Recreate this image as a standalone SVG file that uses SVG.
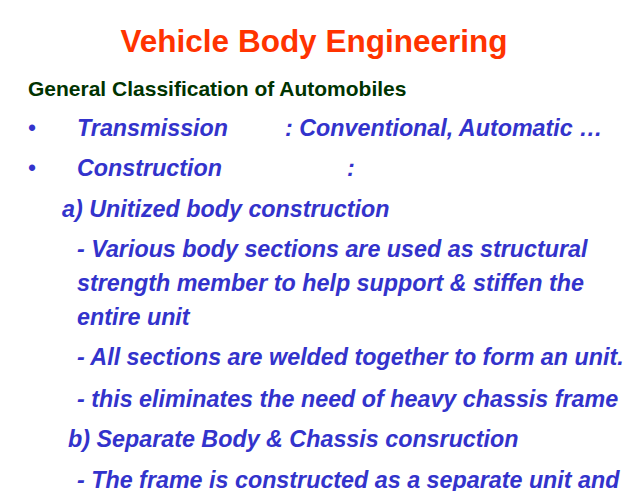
<svg xmlns="http://www.w3.org/2000/svg" width="638" height="491" viewBox="0 0 638 491">
<style>
.t{font-family:"Liberation Sans",Arial,sans-serif;font-weight:bold}
.b{font-family:"Liberation Sans",Arial,sans-serif;font-weight:bold;font-style:italic;font-size:23.3px;fill:#3333cc}
.bl{font-family:"Liberation Sans",Arial,sans-serif;font-size:23px;fill:#3333cc}
</style>
<rect width="638" height="491" fill="#fff"/>
<text class="t" x="314" y="52" font-size="31.5" fill="#ff3300" text-anchor="middle">Vehicle Body Engineering</text>
<text class="t" x="28" y="96" font-size="21" fill="#003300">General Classification of Automobiles</text>
<text class="bl" x="28" y="136">•</text>
<text class="b" x="77" y="136">Transmission</text>
<text class="b" x="285" y="136">: Conventional, Automatic …</text>
<text class="bl" x="28" y="176">•</text>
<text class="b" x="77" y="176">Construction</text>
<text class="b" x="347" y="176">:</text>
<text class="b" x="62" y="217">a) Unitized body construction</text>
<text class="b" x="77" y="257">- Various body sections are used as structural</text>
<text class="b" x="77" y="291">strength member to help support &amp; stiffen the</text>
<text class="b" x="77" y="325">entire unit</text>
<text class="b" x="77" y="365">- All sections are welded together to form an unit.</text>
<text class="b" x="77" y="407">- this eliminates the need of heavy chassis frame</text>
<text class="b" x="68" y="447">b)  Separate Body &amp; Chassis consruction</text>
<text class="b" x="77" y="488">- The frame is constructed as a separate unit and</text>
</svg>
